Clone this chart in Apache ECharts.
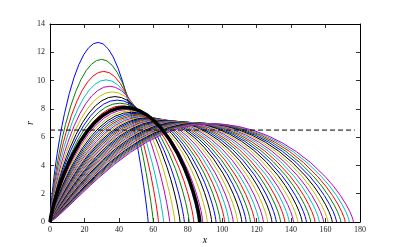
<!DOCTYPE html>
<html><head><meta charset="utf-8">
<script src="https://cdn.jsdelivr.net/npm/echarts@6/dist/echarts.min.js"></script>
<style>html,body{margin:0;padding:0;background:#fff}#c{width:400px;height:247px}</style>
</head><body><div id="c"></div>
<script>
// values
const xTicks = [0,20,40,60,80,100,120,140,160,180];
const yTicks = [0,2,4,6,8,10,12,14];
const endX = [57,60,63,66,69.5,72.5,75.5,78,80.8,83.5,86.1,88.7,91.3,93.9,96.4,98.9,101.4,103.9,106.4,108.9,111.4,113.9,116.4,118.9,121.4,123.9,126.4,128.9,131.4,133.9,136.4,138.9,141.4,143.9,146.4,148.9,151.4,153.9,156.4,158.9,161.4,163.9,166.4,168.9,171.4,173.8,176.2];
const peakX = [28,30,31.2,32.6,34.6,36.2,37.7,39,40.5,41.9,43.2,44.6,46.0,47.4,48.7,50.1,51.4,52.7,54.1,55.5,56.8,58.2,59.5,60.9,62.3,63.7,65.0,66.4,67.8,69.2,70.6,72.0,73.4,74.8,76.2,77.7,79.1,80.5,81.9,83.4,84.8,86.2,87.7,89.1,90.6,92.0,93.4];
const peakR = [12.7,11.5,10.65,10.05,9.6,9.2,8.87,8.62,8.4,8.22,8.07,7.95,7.85,7.76,7.68,7.61,7.55,7.5,7.45,7.41,7.37,7.34,7.31,7.28,7.25,7.23,7.21,7.19,7.17,7.15,7.13,7.12,7.1,7.09,7.08,7.06,7.05,7.04,7.03,7.02,7.01,7.0,6.99,6.98,6.97,6.96,6.95];
// shape steepness per curve: rise gentler for long curves, fall narrower for tall ones
const riseP = endX.map((_, i) => 0.75 + 0.45 * i / (endX.length - 1));
const fallP = endX.map((_, i) => 0.75 + 0.15 * Math.max(0, 10 - i) / 10);
const thick = {end: 87, px: 43.5, pr: 8.1, p: 0.8, q: 0.75};
const dashR = 6.5, dashEnd = 177;
const colors = ['#0000ff','#008000','#ff0000','#00bfbf','#bf00bf','#bfbf00','#000000'];

const tRise = [0,0.01,0.03,0.06,0.1,0.15,0.2,0.25,0.3,0.4,0.5,0.6,0.7,0.8,0.9,1];
const tFall = [0.9,0.8,0.7,0.6,0.5,0.4,0.3,0.2,0.14,0.09,0.05,0.025,0.01,0.003,0];
function prof(t, p){ return Math.pow(Math.max(0, t*(2-t)), p); }
function curve(L, xp, h, p, q){
  const pts = [];
  tRise.forEach(t => pts.push([t*xp, h*prof(t,p)]));
  tFall.forEach(t => pts.push([L - t*(L-xp), h*prof(t,q)]));
  return pts;
}
const serif = 'Liberation Serif, DejaVu Serif, serif';
const series = [];
endX.forEach((L,i) => series.push({
  type:'line', data: curve(L, peakX[i], peakR[i], riseP[i], fallP[i]), showSymbol:false, silent:true,
  lineStyle:{color: colors[i%7], width:1}, z: 2
}));
series.push({type:'line', data: curve(thick.end, thick.px, thick.pr, thick.p, thick.q), showSymbol:false, silent:true,
  lineStyle:{color:'#000', width:3.5}, z:3});
series.push({type:'line', data:[[0,dashR],[dashEnd,dashR]], showSymbol:false, silent:true,
  lineStyle:{color:'#000', width:1, type:[5,3]}, z:4});

const axLine = {show:true, onZero:false, lineStyle:{color:'#000', width:1}};
const tick = {show:true, inside:true, length:4, lineStyle:{color:'#000', width:0.8}};
const lab = {fontFamily: serif, fontSize: 8, color:'#222'};
const chart = echarts.init(document.getElementById('c'), null, {renderer:'canvas'});
chart.setOption({
  animation:false,
  grid:{left:50, right:40, top:24, bottom:25, containLabel:false, outerBoundsMode:'none'},
  xAxis:[
    {type:'value', min:0, max:180, interval:20, position:'bottom', axisLine:axLine, axisTick:tick,
     axisLabel:Object.assign({margin:4, formatter: v => xTicks.includes(v) ? String(v) : ''}, lab), splitLine:{show:false},
     name:'x', nameLocation:'middle', nameGap:13, nameMoveOverlap:false, nameTextStyle:{fontFamily:serif, fontStyle:'italic', fontSize:10, color:'#000'}},
    {type:'value', min:0, max:180, interval:20, position:'top', axisLine:axLine, axisTick:tick, axisLabel:{show:false}, splitLine:{show:false}}
  ],
  yAxis:[
    {type:'value', min:0, max:14, interval:2, position:'left', axisLine:axLine, axisTick:tick,
     axisLabel:Object.assign({margin:5, formatter: v => yTicks.includes(v) ? String(v) : ''}, lab), splitLine:{show:false},
     name:'r', nameLocation:'middle', nameGap:15, nameRotate:90, nameMoveOverlap:false, nameTextStyle:{fontFamily:serif, fontStyle:'italic', fontSize:10, color:'#000'}},
    {type:'value', min:0, max:14, interval:2, position:'right', axisLine:axLine, axisTick:tick, axisLabel:{show:false}, splitLine:{show:false}}
  ],
  series: series
});
</script></body></html>
